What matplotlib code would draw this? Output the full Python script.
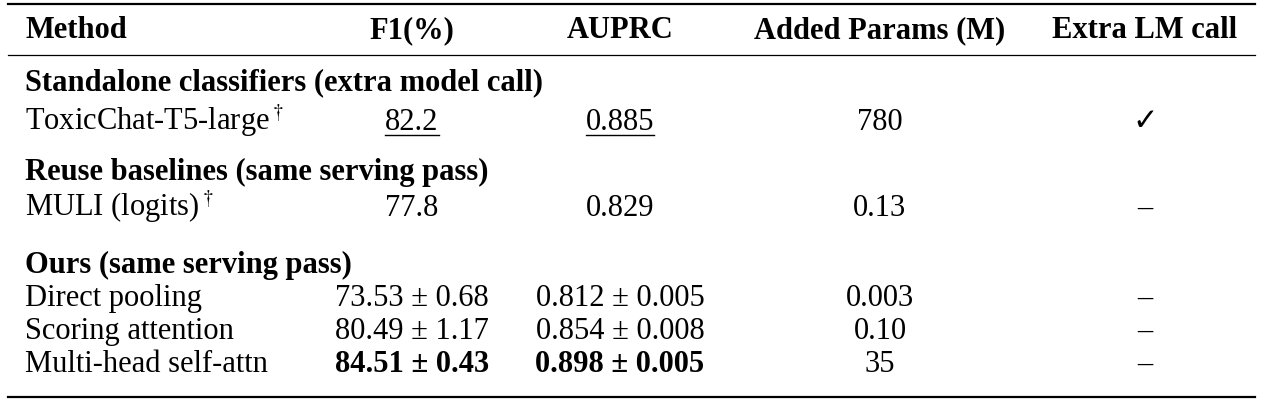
import matplotlib
matplotlib.use("Agg")
import matplotlib.pyplot as plt

plt.rcParams["font.family"] = ["Liberation Serif", "DejaVu Serif"]
plt.rcParams["mathtext.fontset"] = "stix"

headers = ["Method", "F1(%)", "AUPRC", "Added Params (M)", "Extra LM call"]
groups = [
    "Standalone classifiers (extra model call)",
    "Reuse baselines (same serving pass)",
    "Ours (same serving pass)",
]
methods = ["ToxicChat-T5-large$^\\dagger$", "MULI (logits)$^\\dagger$",
           "Direct pooling", "Scoring attention", "Multi-head self-attn"]
f1 = ["82.2", "77.8", "73.53 ± 0.68", "80.49 ± 1.17", "84.51 ± 0.43"]
auprc = ["0.885", "0.829", "0.812 ± 0.005", "0.854 ± 0.008", "0.898 ± 0.005"]
params = ["780", "0.13", "0.003", "0.10", "35"]
extra_call = ["✓", "–", "–", "–", "–"]
underline = [0]
bold = [4]

fig = plt.figure(figsize=(12.63, 4.01), dpi=100)
ax = fig.add_axes([0, 0, 1, 1])
ax.set_xlim(0, 1263)
ax.set_ylim(401, 0)
ax.axis("off")

fs = 22
off = 8  # baseline offset from row centre
col_x = [25, 412, 620, 880, 1145]

ax.plot([8, 1255], [4, 4], color="black", lw=1.6)
ax.plot([8, 1255], [55, 55], color="black", lw=0.9)
ax.plot([8, 1255], [397, 397], color="black", lw=1.6)

ax.text(col_x[0], 30 + off, headers[0], fontsize=fs, fontweight="bold", va="baseline", ha="left")
for x, h in zip(col_x[1:], headers[1:]):
    ax.text(x, 30 + off, h, fontsize=fs, fontweight="bold", va="baseline", ha="center")

group_y = [82, 172, 265]
row_y = [122, 208, 298, 331, 364]
for gy, g in zip(group_y, groups):
    ax.text(col_x[0], gy + off, g, fontsize=fs, fontweight="bold", va="baseline", ha="left")

fig.canvas.draw()
renderer = fig.canvas.get_renderer()
inv = ax.transData.inverted()
for i, y in enumerate(row_y):
    ax.text(col_x[0], y + off, methods[i], fontsize=fs, va="baseline", ha="left")
    for j, val in enumerate([f1[i], auprc[i], params[i], extra_call[i]]):
        x = col_x[j + 1]
        font = ["DejaVu Sans"] if val == "✓" else None
        w = "bold" if (i in bold and j < 2) else "normal"
        t = ax.text(x, y + off, val, fontsize=fs, va="baseline", ha="center",
                    fontweight=w, family=font)
        if i in underline and j < 2:
            bb = t.get_window_extent(renderer)
            (x0, _), (x1, _) = inv.transform([(bb.x0, bb.y0), (bb.x1, bb.y0)])
            ax.plot([x0, x1], [y + 13, y + 13], color="black", lw=1)

fig.savefig("out.png", dpi=100)
